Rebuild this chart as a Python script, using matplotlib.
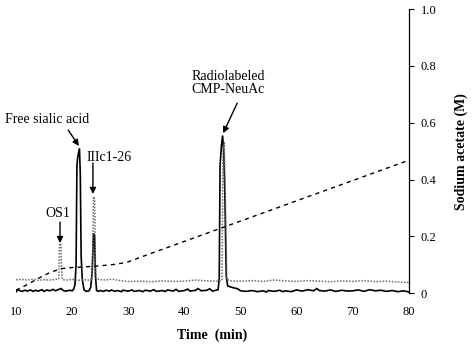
import matplotlib
matplotlib.use("Agg")
import matplotlib.pyplot as plt

plt.rcParams['font.family'] = ['Liberation Serif', 'DejaVu Serif']

# Solid trace (radioactivity, sample 1)
solid_t = [10.0, 10.3, 11.0, 11.6, 12.0, 12.6, 13.0, 13.5, 14.0, 14.6, 15.0, 15.5, 16.0, 16.6,
           17.0, 17.5, 18.0, 18.5, 19.0, 19.5, 20.0, 20.3, 20.5, 20.7, 20.85, 21.0, 21.3,
           21.45, 21.6, 21.8, 22.1, 22.5, 23.0, 23.3, 23.55, 23.8, 24.0, 24.15, 24.35,
           24.7, 25.0, 25.6, 26.0, 26.7, 27.0, 27.6, 28.0, 28.8, 29.0, 30.0, 30.7, 31.0,
           32.0, 32.6, 33.0, 34.0, 34.5, 35.0, 36.0, 36.6, 37.0, 38.0, 38.5, 39.0, 40.0,
           40.6, 41.0, 42.0, 42.4, 43.0, 44.0, 44.5, 45.0, 45.6, 46.0, 46.2, 46.35, 46.6,
           46.8, 47.0, 47.2, 47.45, 47.7, 48.5, 49.5, 50.0, 51.0, 52.0, 53.0, 54.0, 54.6,
           55.0, 56.0, 57.0, 57.5, 58.0, 59.0, 60.0, 61.0, 62.0, 63.0, 63.6, 64.0, 65.0,
           66.0, 67.0, 68.0, 69.0, 70.0, 71.0, 72.0, 73.0, 74.0, 75.0, 76.0, 77.0, 78.0,
           79.0, 80.0]
solid_v = [0.004, 0.012, 0.006, 0.010, 0.007, 0.011, 0.006, 0.010, 0.007, 0.012, 0.006, 0.011, 0.008, 0.013,
           0.008, 0.012, 0.016, 0.008, 0.007, 0.010, 0.008, 0.015, 0.030, 0.10, 0.45, 0.48, 0.51,
           0.42, 0.13, 0.05, 0.012, 0.006, 0.008, 0.02, 0.07, 0.21, 0.20, 0.06, 0.009,
           0.006, 0.009, 0.006, 0.010, 0.007, 0.011, 0.006, 0.009, 0.005, 0.010, 0.007, 0.011, 0.006,
           0.009, 0.005, 0.010, 0.007, 0.012, 0.006, 0.009, 0.006, 0.011, 0.007, 0.013, 0.006, 0.009,
           0.014, 0.007, 0.010, 0.016, 0.008, 0.010, 0.015, 0.007, 0.010, 0.012, 0.05, 0.45, 0.52,
           0.555, 0.50, 0.35, 0.06, 0.025, 0.020, 0.015, 0.008, 0.006, 0.009, 0.005, 0.008, 0.004,
           0.009, 0.006, 0.010, 0.005, 0.008, 0.005, 0.011, 0.007, 0.012, 0.008, 0.016, 0.009, 0.007,
           0.011, 0.006, 0.010, 0.007, 0.008, 0.011, 0.006, 0.012, 0.008, 0.010, 0.006, 0.009, 0.005,
           0.008, 0.004]

# Dotted trace (radioactivity, sample 2)
dot_t = [10.0, 11.0, 12.0, 13.0, 14.0, 15.0, 16.0, 17.0, 17.6, 17.75, 18.0, 18.15, 18.3, 19.0,
         20.0, 21.0, 22.0, 23.0, 23.5, 23.65, 23.8, 24.0, 24.15, 24.3, 25.0, 26.0, 27.0, 28.0,
         29.0, 30.0, 32.0, 34.0, 36.0, 38.0, 40.0, 42.0, 44.0, 46.0, 46.7, 46.85, 47.1,
         47.35, 47.55, 48.0, 50.0, 52.0, 54.0, 56.0, 58.0, 60.0, 62.0, 64.0, 66.0, 68.0,
         70.0, 72.0, 74.0, 76.0, 78.0, 80.0]
dot_v = [0.047, 0.048, 0.046, 0.049, 0.045, 0.047, 0.046, 0.048, 0.050, 0.17, 0.175, 0.06, 0.047, 0.046,
         0.048, 0.045, 0.047, 0.046, 0.048, 0.10, 0.34, 0.33, 0.10, 0.05, 0.047, 0.046, 0.049, 0.046,
         0.043, 0.041, 0.042, 0.040, 0.043, 0.041, 0.042, 0.046, 0.043, 0.042, 0.045, 0.50, 0.53,
         0.30, 0.05, 0.043, 0.042, 0.044, 0.041, 0.046, 0.043, 0.041, 0.044, 0.042, 0.040, 0.043,
         0.041, 0.044, 0.040, 0.042, 0.039, 0.037]

# Sodium acetate gradient (M)
grad_t = [10.0, 12.0, 14.0, 16.0, 18.0, 20.0, 22.0, 25.0, 28.0, 30.0, 32.0, 80.0]
grad_v = [0.010, 0.030, 0.052, 0.072, 0.086, 0.090, 0.092, 0.096, 0.102, 0.110, 0.125, 0.468]

x_ticks = [10, 20, 30, 40, 50, 60, 70, 80]
y_ticks = [0, 0.2, 0.4, 0.6, 0.8, 1.0]
y_ticklabels = ['0', '0.2', '0.4', '0.6', '0.8', '1.0']

fig = plt.figure(figsize=(4.74, 3.51), dpi=100)
ax = fig.add_axes([0.0338, 0.165, 0.829, 0.809])

ax.plot(solid_t, solid_v, color='black', lw=1.2, solid_joinstyle='miter')
ax.plot(dot_t, dot_v, color='0.42', lw=1.1, linestyle=(0, (1, 1)))
ax.plot(grad_t, grad_v, color='black', lw=1.0, linestyle=(0, (3, 3)))

ax.set_xlim(10, 80)
ax.set_ylim(0, 1.0)
for s in ['left', 'top', 'bottom']:
    ax.spines[s].set_visible(False)
ax.spines['right'].set_linewidth(0.9)

ax.set_xticks(x_ticks)
ax.tick_params(axis='x', length=0, pad=9, labelsize=9)
ax.yaxis.tick_right()
ax.set_yticks(y_ticks)
ax.set_yticklabels(y_ticklabels)
ax.tick_params(axis='y', direction='out', length=3.5, width=0.8, pad=5, labelsize=9)

ax.set_xlabel('Time  (min)', fontsize=10, fontweight='bold')
ax.xaxis.set_label_coords(0.5, -0.125)
ax.yaxis.set_label_position('right')
ax.set_ylabel('Sodium acetate (M)', fontsize=10, fontweight='bold', rotation=90)
ax.yaxis.set_label_coords(1.117, 0.5)

arrow = dict(arrowstyle='-|>', color='black', lw=1.0, mutation_scale=9, shrinkA=0, shrinkB=0)
ax.annotate('', xy=(21.2, 0.518), xytext=(19.3, 0.574), arrowprops=arrow)
ax.text(15.5, 0.613, 'Free sialic acid', ha='center', va='center', fontsize=10)
ax.annotate('', xy=(23.7, 0.349), xytext=(23.7, 0.458), arrowprops=arrow)
ax.text(26.6, 0.479, 'IIIc1-26', ha='center', va='center', fontsize=10)
ax.annotate('', xy=(17.84, 0.176), xytext=(17.84, 0.25), arrowprops=arrow)
ax.text(17.5, 0.282, 'OS1', ha='center', va='center', fontsize=10)
ax.annotate('', xy=(46.9, 0.563), xytext=(49.4, 0.669), arrowprops=arrow)
ax.text(47.8, 0.74, 'Radiolabeled\nCMP-NeuAc', ha='center', va='center', fontsize=10,
        linespacing=1.05)

fig.savefig('out.png', dpi=100)
